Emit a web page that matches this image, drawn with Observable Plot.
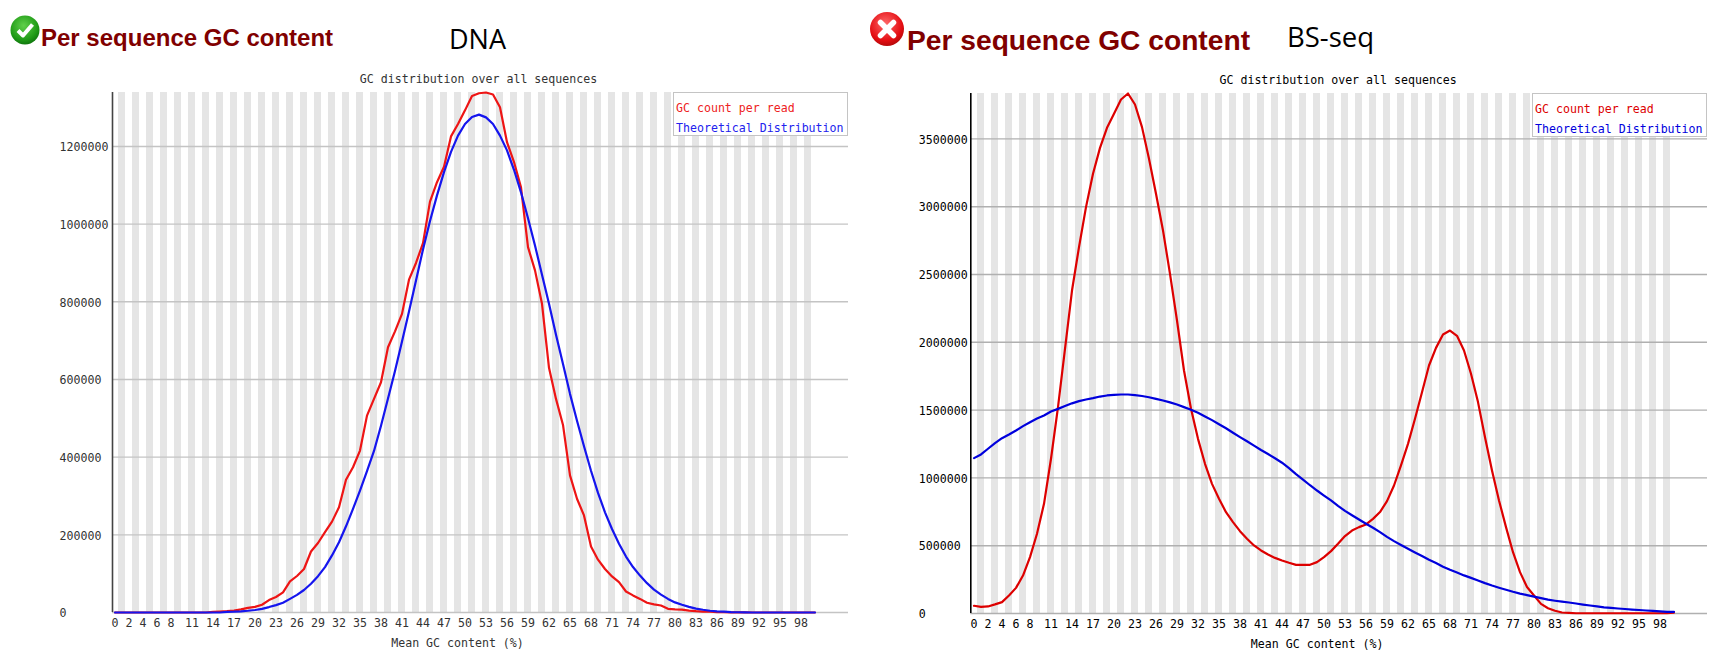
<!DOCTYPE html>
<html>
<head>
<meta charset="utf-8">
<script src="https://cdn.jsdelivr.net/npm/d3@7"></script>
<script src="https://cdn.jsdelivr.net/npm/@observablehq/plot@0.6"></script>
<style>
  html, body { margin: 0; padding: 0; background: #fff; width: 1735px; height: 665px; overflow: hidden; }
  .abs { position: absolute; white-space: nowrap; }
  svg.plot { position: absolute; top: 0; background: transparent; }
  .heading { font-family: "Liberation Sans", Arial, sans-serif; font-weight: bold; color: #800000; }
  .tag { font-family: "Open Sans", sans-serif; color: #000; }
  .legend { position: absolute; box-sizing: border-box; background: #fff; border: 1.5px solid #c4c4c4;
            font-family: "DejaVu Sans Mono", monospace; font-size: 11.6px; }
  .legend div { position: absolute; left: 2px; white-space: nowrap; }
</style>
</head>
<body>
<svg class="abs" style="left:8px;top:13px" width="34" height="34" viewBox="0 0 34 34">
  <defs><radialGradient id="gOk" cx="45%" cy="35%" r="70%"><stop offset="0" stop-color="#5fd04a"/><stop offset="0.7" stop-color="#1f9a16"/><stop offset="1" stop-color="#0c6d0c"/></radialGradient></defs>
  <circle cx="17" cy="17" r="14.5" fill="url(#gOk)"/>
  <path d="M10 17.5 L15 22.5 L24.5 11.5" fill="none" stroke="#fff" stroke-width="4" stroke-linejoin="round"/>
</svg>
<div class="abs heading" style="left:41px;top:23px;font-size:24px;line-height:30px">Per sequence GC content</div>
<div class="abs tag" style="left:449px;top:20px;font-size:27px;line-height:38px">DNA</div>

<svg class="abs" style="left:867px;top:9px" width="40" height="40" viewBox="0 0 40 40">
  <defs><radialGradient id="gNo" cx="45%" cy="35%" r="70%"><stop offset="0" stop-color="#ff6a6a"/><stop offset="0.7" stop-color="#e40d12"/><stop offset="1" stop-color="#a90808"/></radialGradient></defs>
  <circle cx="20" cy="20" r="17" fill="url(#gNo)"/>
  <path d="M13.5 13.5 L26.5 26.5 M26.5 13.5 L13.5 26.5" fill="none" stroke="#fff" stroke-width="5.5" stroke-linecap="round"/>
</svg>
<div class="abs heading" style="left:907px;top:22px;font-size:28.2px;line-height:36px">Per sequence GC content</div>
<div class="abs tag" style="left:1287px;top:18px;font-size:27.5px;line-height:38px">BS-seq</div>

<script>
const gcPercent = d3.range(0, 101);
const xTickLabels = [0,2,4,6,8,11,14,17,20,23,26,29,32,35,38,41,44,47,50,53,56,59,62,65,68,71,74,77,80,83,86,89,92,95,98];
const stripeBins = gcPercent.filter(v => v % 2 === 1 && v < 100);

const dnaTicks = [0,200000,400000,600000,800000,1000000,1200000];
const bsTicks = [0,500000,1000000,1500000,2000000,2500000,3000000,3500000];

const dnaObserved = [0,0,0,0,0,0,0,0,0,0,0,0,0,0,1500,2500,3500,5000,8000,12000,14500,20000,32000,40000,52000,80000,94000,112000,157000,179000,207000,234000,271000,342000,374000,417000,507000,550000,593000,683000,724000,769000,857000,900000,951000,1058000,1108000,1148000,1226000,1258000,1293000,1330000,1337000,1339000,1334000,1301000,1211000,1160000,1095000,941000,881000,795000,630000,550000,483000,353000,293000,250000,170000,136000,112000,93000,78000,54000,44000,35000,25000,21000,18000,9500,8000,7500,5000,3500,2500,2000,1200,800,500,300,200,0,0,0,0,0,0,0,0,0,0];
const dnaTheoretical = [0,0,0,0,0,0,0,0,0,0,0,0,0,0,0,0,1500,2000,3000,4500,6500,9500,14000,19000,25000,35000,45500,58000,74000,93500,117000,147000,181000,222000,267000,314000,364000,416000,481000,551000,622000,698000,775000,855000,935000,1008000,1074000,1134000,1186000,1228000,1258000,1276000,1282000,1275000,1258000,1228000,1190000,1140000,1082000,1015000,945000,870000,795000,715000,640000,563000,494000,428000,365000,308000,258000,215000,177000,144000,117000,95000,75500,59000,46000,35000,26000,20000,14500,10000,7000,4500,3000,2000,1000,600,300,0,0,0,0,0,0,0,0,0,0];
const bsObserved = [57000,49000,52000,67000,84000,133000,189000,280000,416000,588000,809000,1141000,1522000,1952000,2382000,2702000,2997000,3243000,3434000,3582000,3685000,3791000,3835000,3754000,3587000,3353000,3095000,2825000,2505000,2161000,1792000,1510000,1288000,1104000,956000,846000,747000,674000,607000,551000,502000,465000,435000,410000,391000,374000,359000,359000,359000,379000,416000,460000,514000,571000,612000,637000,657000,698000,748000,829000,944000,1092000,1251000,1436000,1632000,1829000,1959000,2058000,2087000,2048000,1940000,1768000,1559000,1300000,1055000,834000,637000,452000,305000,195000,133000,71000,39000,20000,7400,5000,2000,2000,2000,2000,2000,2000,2000,2000,2000,2000,2000,2000,2000,3000,7000];
const bsTheoretical = [1146000,1173000,1215000,1256000,1293000,1320000,1350000,1382000,1411000,1438000,1460000,1490000,1509000,1530000,1550000,1566000,1578000,1588000,1600000,1608000,1612000,1615000,1615000,1610000,1604000,1595000,1583000,1571000,1557000,1541000,1522000,1503000,1480000,1453000,1426000,1396000,1366000,1333000,1301000,1270000,1238000,1206000,1176000,1145000,1112000,1072000,1028000,988000,946000,907000,870000,834000,794000,757000,725000,693000,662000,632000,600000,565000,534000,505000,477000,450000,424000,396000,372000,345000,322000,302000,281000,263000,244000,224000,206000,190000,175000,160000,147000,136000,125000,113000,102000,94000,87000,81000,74000,66000,59000,52000,45000,41000,37000,33000,29000,26000,22000,19000,15000,12000,12000];

const mono = "'DejaVu Sans Mono', monospace";

function panel({left, width, marginLeft, marginRight, marginTop, marginBottom, xDomain, yMax, yTicks,
                observed, theoretical, red, blue, axisColor, gridColor, labelDx, yLabelDx, textColor, titleDx}) {
  const chart = Plot.plot({
    width, height: 665, marginLeft, marginRight, marginTop, marginBottom,
    style: {background: "transparent", fontFamily: mono, fontSize: "11.6px", color: textColor},
    x: {type: "linear", domain: xDomain},
    y: {domain: [0, yMax]},
    marks: [
      Plot.rect(stripeBins, {x1: d => d - 0.5, x2: d => d + 0.5, y1: 0, y2: yMax, fill: "#e5e5e5"}),
      Plot.ruleY(yTicks, {stroke: gridColor, strokeWidth: 1.4}),
      Plot.ruleX([xDomain[0]], {stroke: axisColor, strokeWidth: 1.6}),
      Plot.axisX({ticks: xTickLabels, tickFormat: d => String(d), tickSize: 0, tickPadding: 6, label: null, fill: textColor}),
      Plot.axisY({ticks: yTicks, tickFormat: d => String(d), tickSize: 0, tickPadding: 0, textAnchor: "start", dx: yLabelDx, dy: 1, label: null, fill: textColor}),
      Plot.line(gcPercent, {x: d => d, y: d => observed[d], stroke: red, strokeWidth: 2.2}),
      Plot.line(gcPercent, {x: d => d, y: d => theoretical[d], stroke: blue, strokeWidth: 2.2}),
      Plot.text(["GC distribution over all sequences"], {text: d => d, frameAnchor: "top", dx: titleDx, dy: -18, fill: textColor}),
      Plot.text(["Mean GC content (%)"], {text: d => d, frameAnchor: "bottom", dx: labelDx, dy: 34, fill: textColor})
    ]
  });
  chart.classList.add("plot");
  chart.style.left = left + "px";
  document.body.appendChild(chart);
}

panel({left: 0, width: 860, marginLeft: 112, marginRight: 12, marginTop: 92, marginBottom: 53,
  xDomain: [-0.357, 104.786], yMax: 1339000, yTicks: dnaTicks, observed: dnaObserved, theoretical: dnaTheoretical,
  red: "#ee1515", blue: "#1515ee", axisColor: "#444", gridColor: "#c4c4c4", labelDx: -23, yLabelDx: -53, textColor: "#333", titleDx: -2});
panel({left: 858, width: 877, marginLeft: 112.3, marginRight: 28, marginTop: 93, marginBottom: 52,
  xDomain: [-0.457, 104.786], yMax: 3835000, yTicks: bsTicks, observed: bsObserved, theoretical: bsTheoretical,
  red: "#dd0000", blue: "#0000dd", axisColor: "#000", gridColor: "#b0b0b0", labelDx: -22, yLabelDx: -52, textColor: "#000", titleDx: -1});

function legend(left, top, w, h, red, blue) {
  const el = document.createElement("div");
  el.className = "legend";
  el.style.cssText = `left:${left}px;top:${top}px;width:${w}px;height:${h}px`;
  el.innerHTML = `<div style="top:8px;color:${red}">GC count per read</div><div style="top:28px;color:${blue}">Theoretical Distribution</div>`;
  document.body.appendChild(el);
}
legend(673, 92, 175, 44, "#ee2222", "#2222ee");
legend(1532, 93, 175, 44, "#dd0000", "#0000dd");
</script>
</body>
</html>
